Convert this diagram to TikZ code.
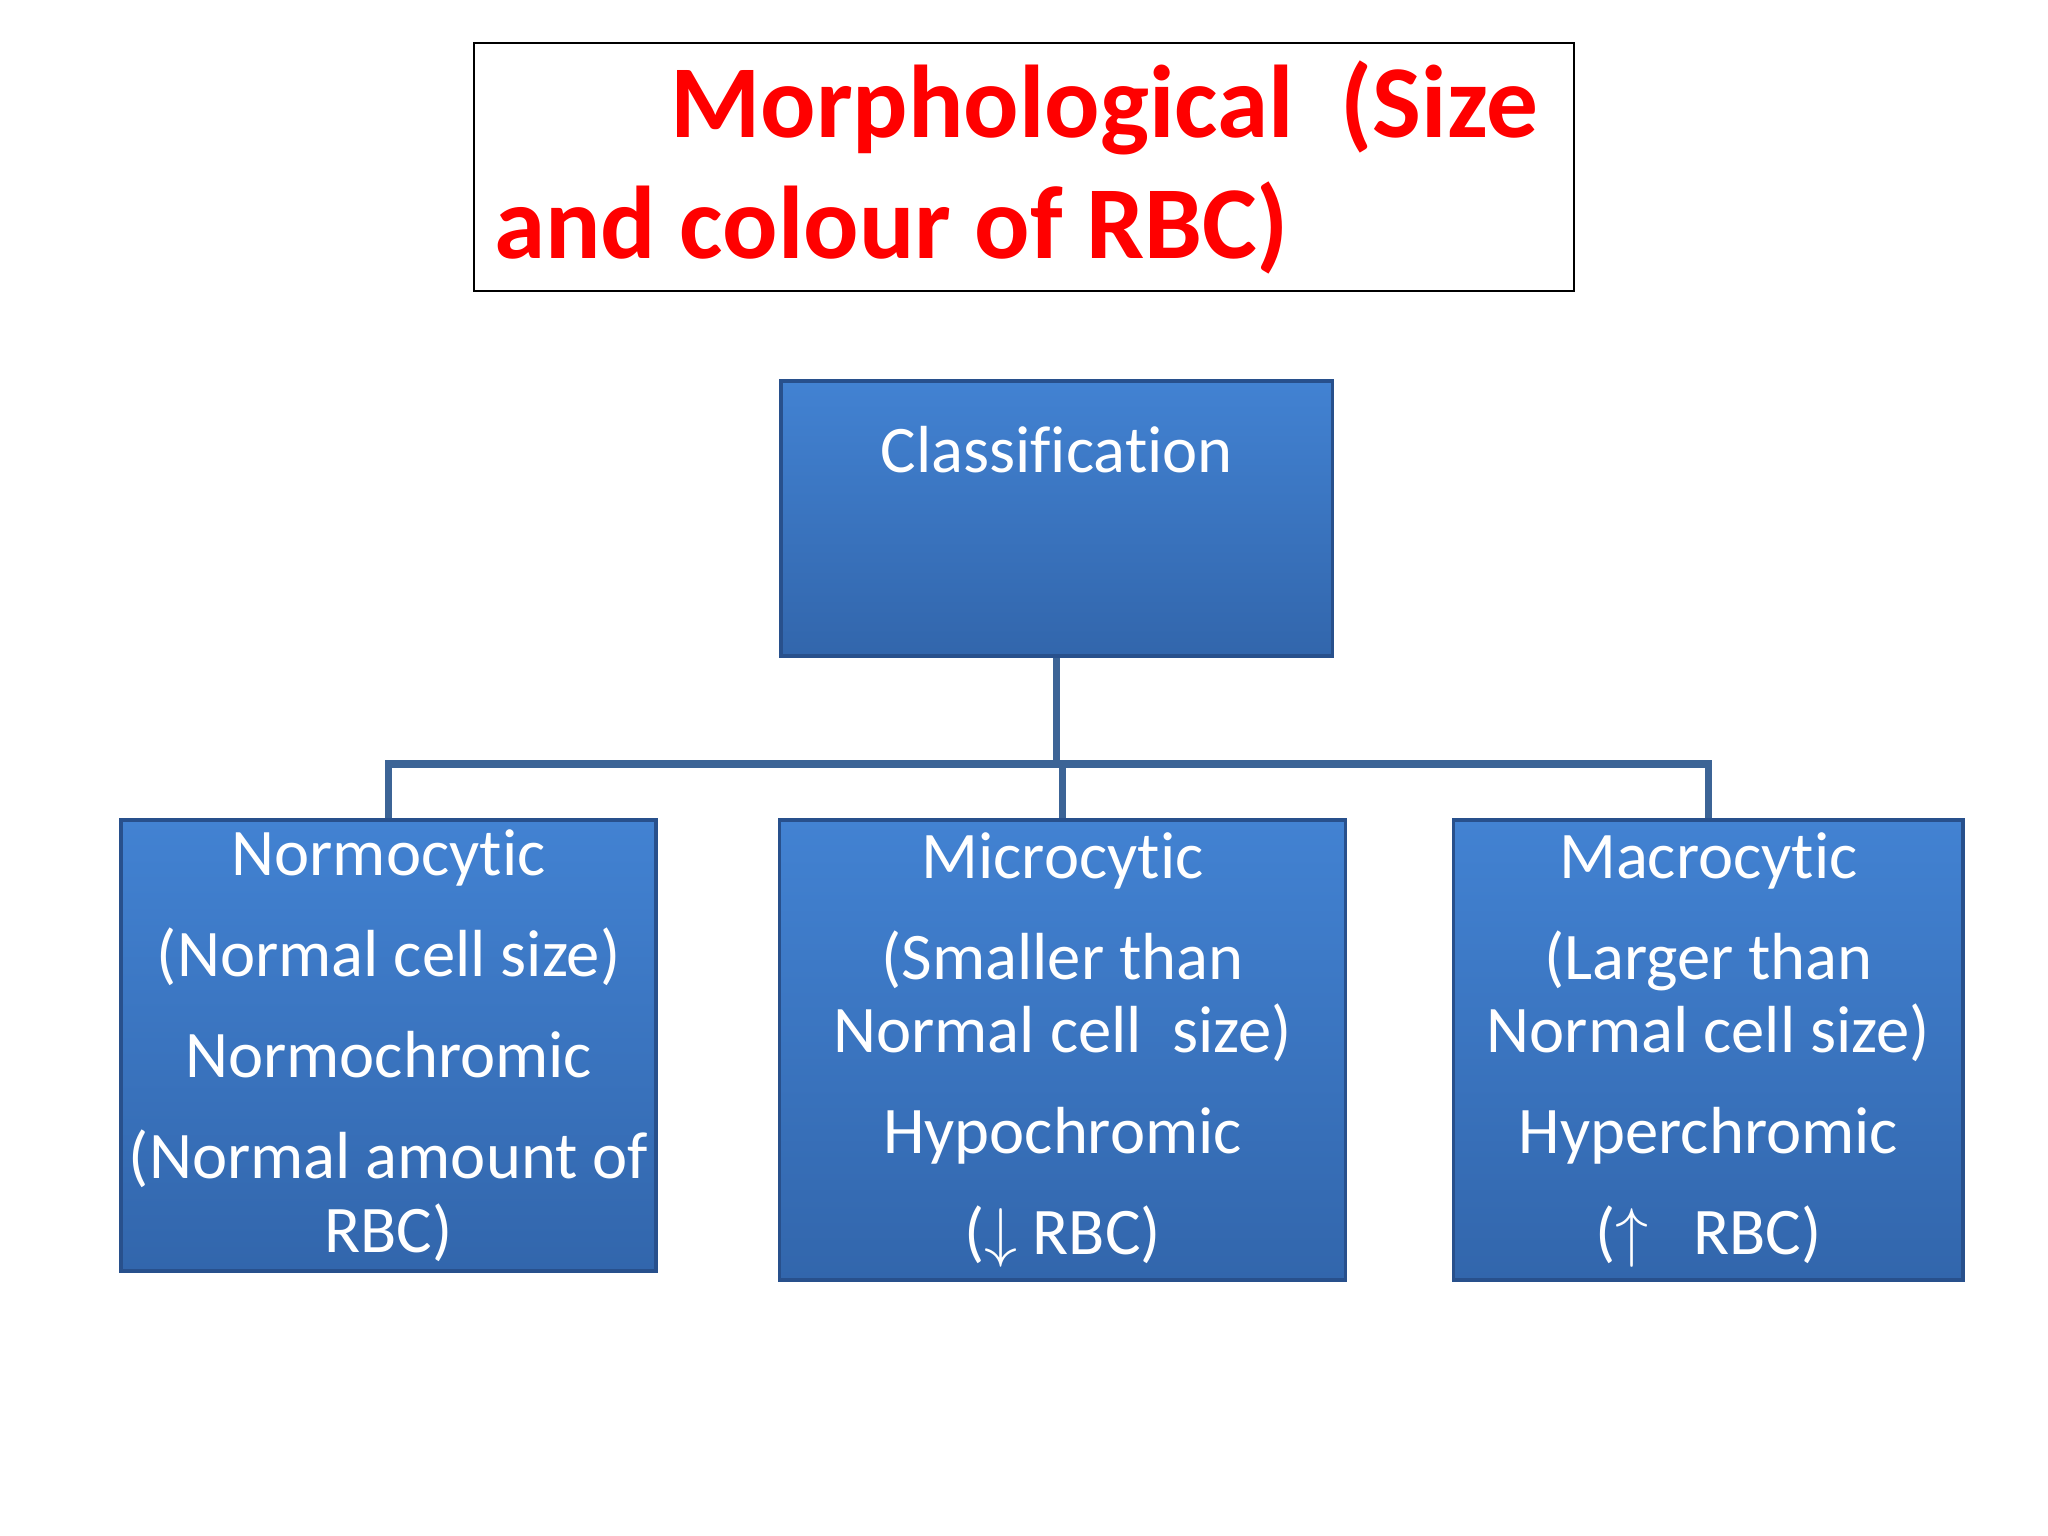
\documentclass[tikz,border=0pt]{standalone}
\usepackage{fontspec}
\setmainfont{Carlito}[Ligatures={NoCommon}]
\usetikzlibrary{positioning}
\definecolor{boxtop}{RGB}{66,130,210}
\definecolor{boxbot}{RGB}{50,102,172}
\definecolor{boxline}{RGB}{40,80,140}
\definecolor{linkblue}{RGB}{60,100,150}
\begin{document}
\begin{tikzpicture}[x=0.01cm, y=-0.01cm,
    box/.style = {draw = boxline, thick, top color = boxtop, bottom color = boxbot,
                  text = white, align = center, inner sep = 0pt,
                  font = \fontsize{14.5}{16}\selectfont},
    link/.style = {draw = linkblue, line width = 1.6pt}
  ]
  \useasboundingbox (0,0) rectangle (1568,1176);

  % title
  \draw[black, thin] (363,33) rectangle (1205,223);
  \node[anchor = base east, text = red, font = \fontsize{22.5}{27}\bfseries] (t1) at (1190,105) {Morphological\ \ (Size};
  \node[anchor = base west, text = red, font = \fontsize{22.5}{27}\bfseries] (t2) at (366,198) {and colour of RBC)};

  % boxes
  \node[box, minimum width = 4.22cm, minimum height = 2.10cm] (cls) at (809,397) {Classification\\[14pt]};
  \node[box, minimum width = 4.09cm, minimum height = 3.45cm] (norm) at (297.5,800.5)
     {Normocytic\\[6pt](Normal cell size)\\[6pt]Normochromic\\[6pt](Normal amount of\\RBC)};
  \node[box, minimum width = 4.33cm, minimum height = 3.52cm] (micro) at (813.5,804)
     {Microcytic\\[6pt](Smaller than\\Normal cell\ \ size)\\[6pt]Hypochromic\\[6pt]($\downarrow$ RBC)};
  \node[box, minimum width = 3.90cm, minimum height = 3.52cm] (macro) at (1308,804)
     {Macrocytic\\[6pt](Larger than\\Normal cell size)\\[6pt]Hyperchromic\\[6pt]($\uparrow$\ \ \ RBC)};

  % connectors
  \coordinate (hub) at (809,585);
  \draw[link] (cls.south) -- (hub);
  \draw[link] (hub) -| (norm.north);
  \draw[link] (hub) -| (micro.north);
  \draw[link] (hub) -| (macro.north);
\end{tikzpicture}
\end{document}
